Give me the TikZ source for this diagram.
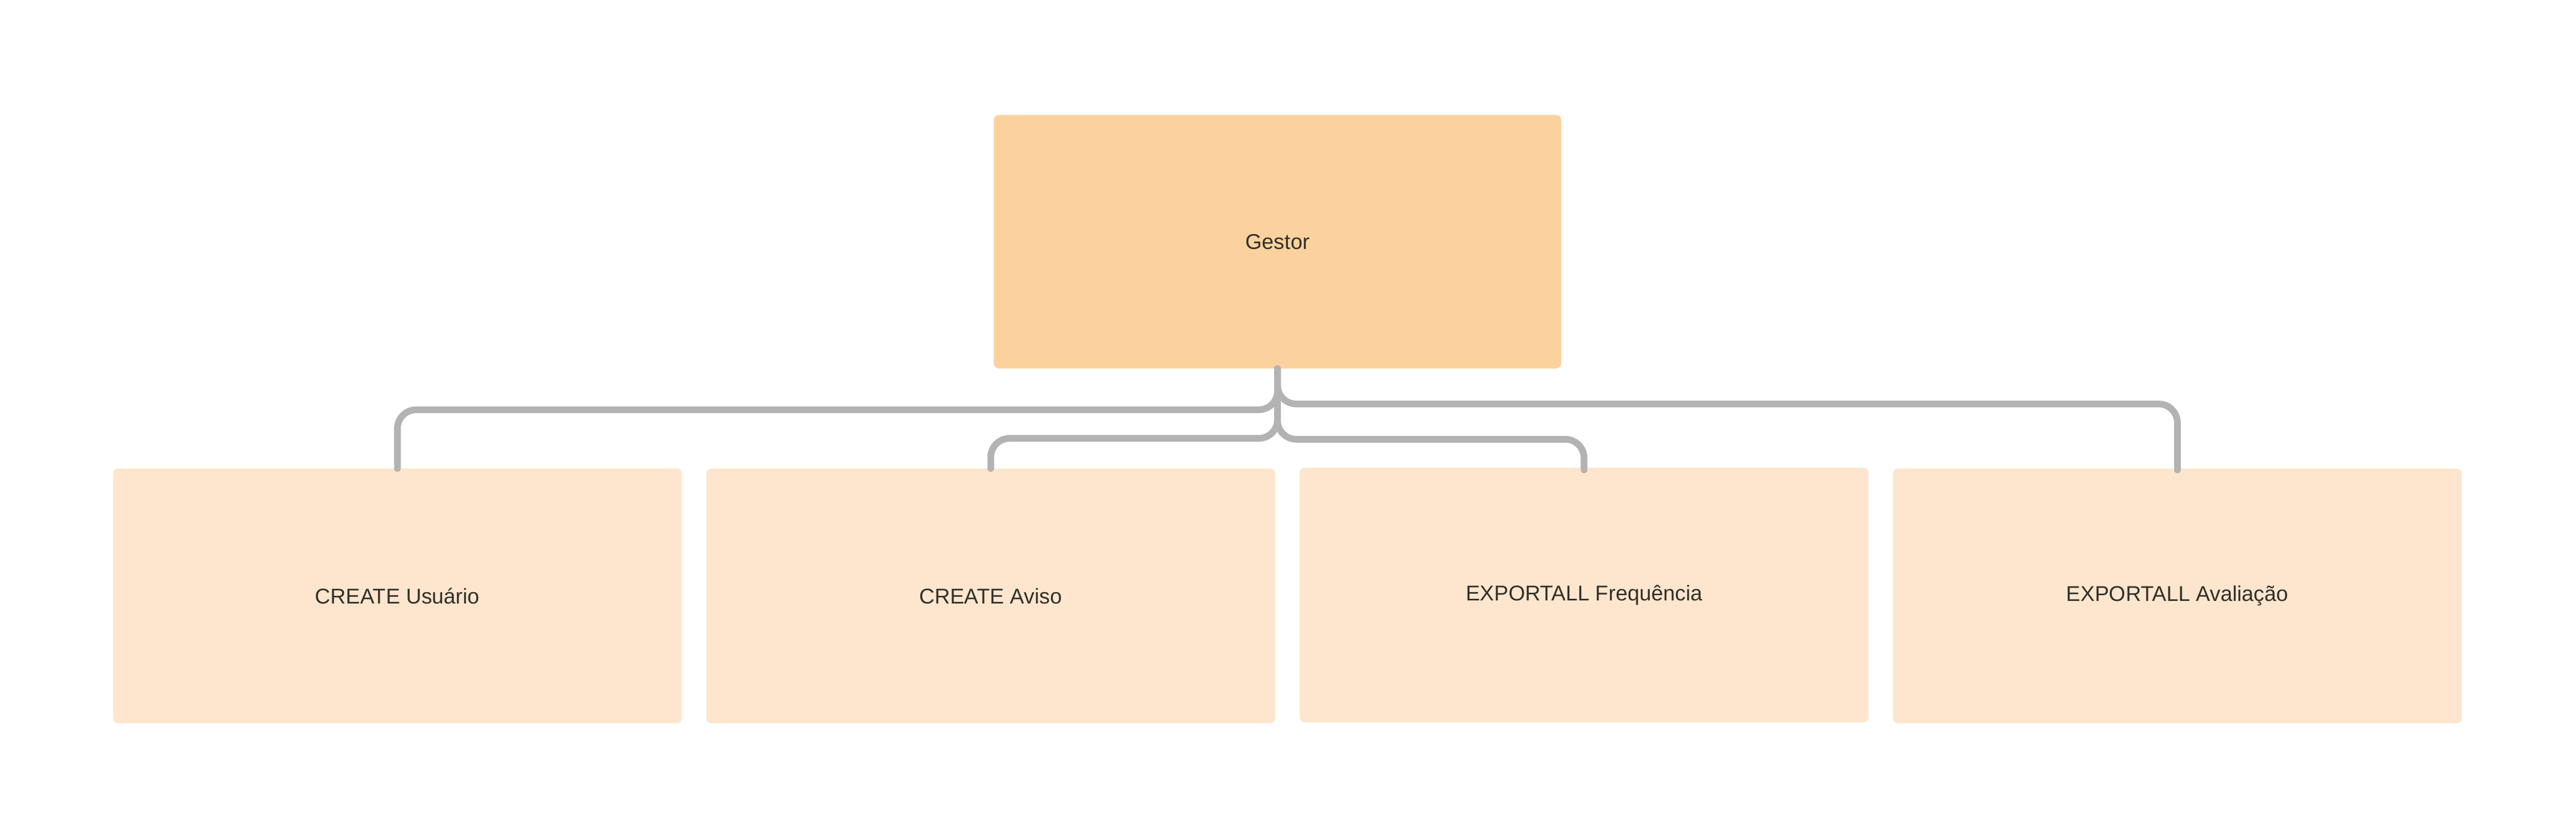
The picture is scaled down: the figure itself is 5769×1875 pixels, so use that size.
\documentclass[tikz,border=0pt]{standalone}
\usepackage{fontspec}
\setmainfont{Liberation Sans}
\usepackage{tikz}
\usetikzlibrary{positioning}
\usepackage{xcolor}
\definecolor{rolefill}{HTML}{FBD29D}
\definecolor{actfill}{HTML}{FDE6CD}
\definecolor{linkgray}{HTML}{B3B3B3}
\definecolor{labeltext}{HTML}{33302C}

\begin{document}
\begin{tikzpicture}[x=0.01cm, y=-0.01cm]

	\tikzset{
	rolebox/.style={fill=rolefill, rounded corners=0.11cm, minimum width=12.7cm, minimum height=5.67cm, text=labeltext, font=\fontsize{13.6}{16}\selectfont},
	actbox/.style={fill=actfill, rounded corners=0.11cm, minimum width=12.73cm, minimum height=5.7cm, text=labeltext, font=\fontsize{13.6}{16}\selectfont, outer sep=0pt},
	link/.style={draw=linkgray, line width=0.15cm, line cap=round, rounded corners=0.42cm}
	}

	\useasboundingbox (0,0) rectangle (5769,1875);

	% Nodes
	\node[rolebox] (gestor) at (2861,541) {Gestor};
	\node[actbox] (usuario) at (890,1334) {CREATE Usuário};
	\node[actbox, right=0.55cm of usuario] (aviso) {CREATE Aviso};
	\node[actbox, right=0.55cm of aviso, yshift=0.02cm] (frequencia) {EXPORTALL Frequência};
	\node[actbox, right=0.55cm of aviso, xshift=13.28cm] (avaliacao) {EXPORTALL Avaliação};

	% Lines
	\draw[link] (gestor.south) -- ++(0,92) -| (usuario.north);
	\draw[link] (gestor.south) -- ++(0,79) -| ([yshift=-0.03cm]avaliacao.north);
	\draw[link] (gestor.south) -- ++(0,156) -| (aviso.north);
	\draw[link] (gestor.south) -- ++(0,158) -| ([yshift=-0.05cm]frequencia.north);

\end{tikzpicture}
\end{document}
